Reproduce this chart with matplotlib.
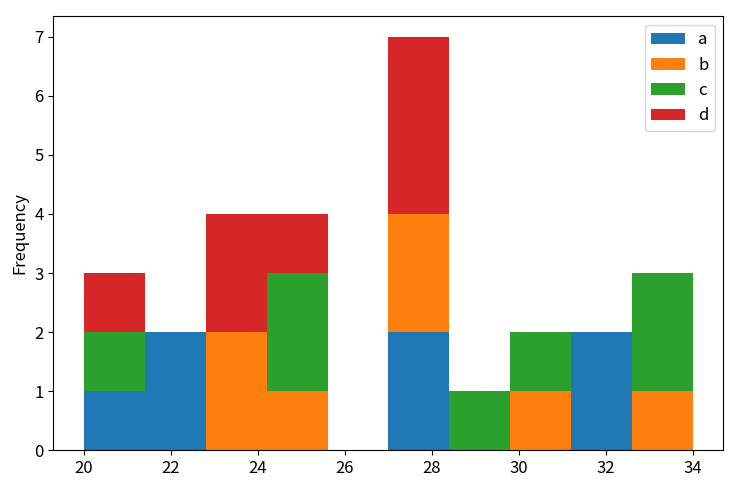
import pandas as pd
import matplotlib.pyplot as plt

plt.rcParams['font.family'] = ['Noto Sans CJK SC', 'DejaVu Sans']
plt.rcParams['axes.unicode_minus'] = False
plt.rcParams['font.size'] = 12

# raw sample values per column (7 each)
a = [20, 22, 22, 28, 28, 32, 32]
b = [23, 24, 25, 27.5, 28, 30, 34]
c = [21, 25, 25, 29, 31, 33, 34]
d = [21, 23, 24, 25, 27.5, 28, 28]

df = pd.DataFrame({'a': a, 'b': b, 'c': c, 'd': d})

fig, ax = plt.subplots(figsize=(7.47, 4.94), dpi=100)
df.plot.hist(stacked=True, bins=10, ax=ax)
ax.set_ylabel("Frequency")
fig.subplots_adjust(left=0.0716, right=0.9685, top=0.967, bottom=0.089)
fig.savefig("out.png", dpi=100)
